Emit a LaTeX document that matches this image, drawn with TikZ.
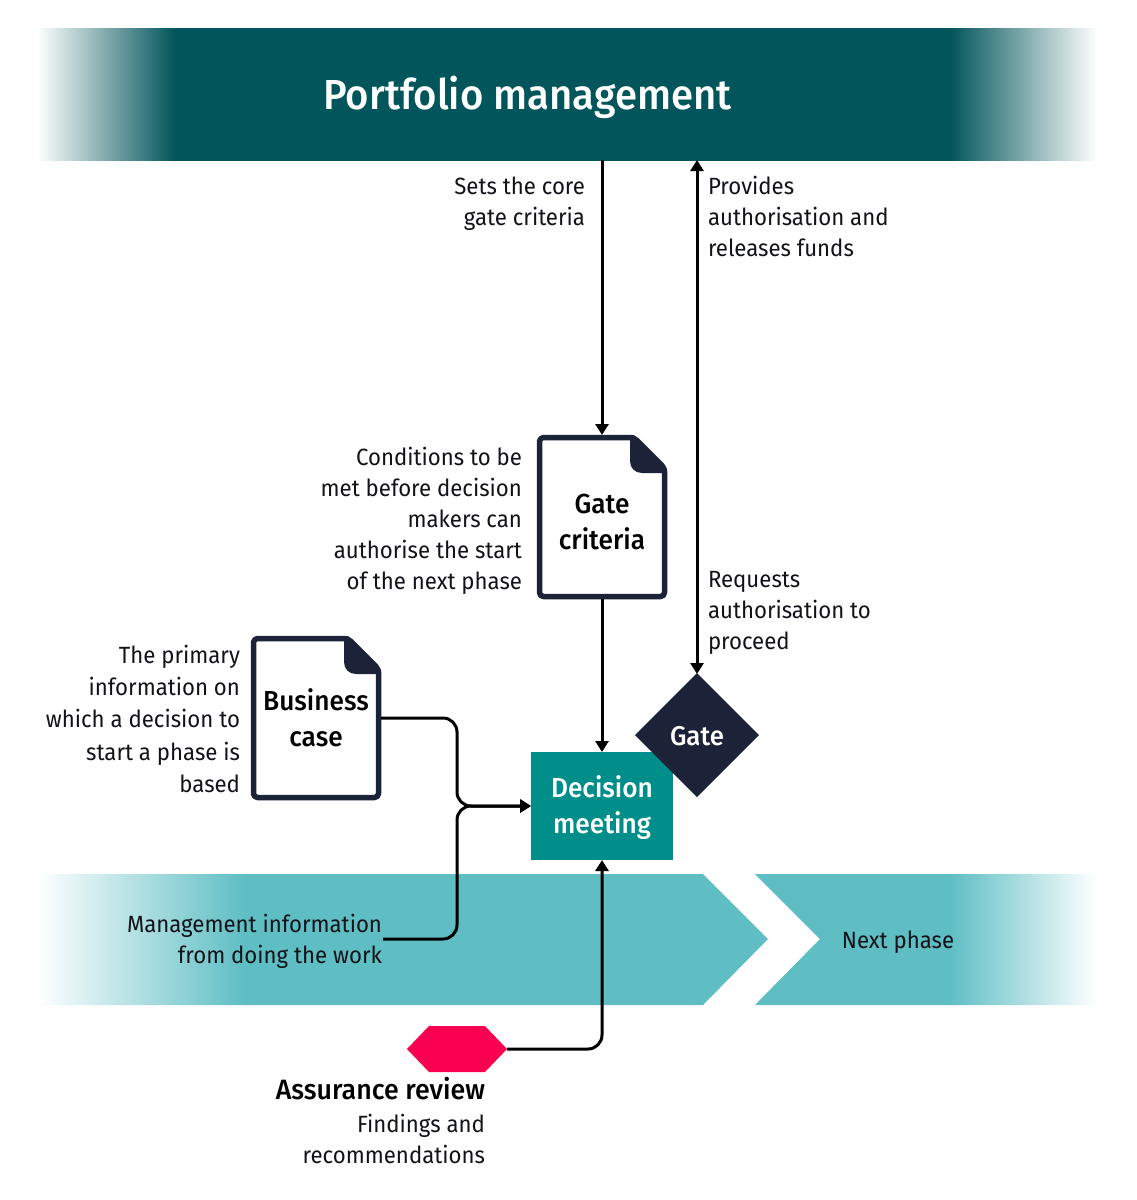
\documentclass[tikz,border=0pt]{standalone}
\usepackage{fontspec}
\setmainfont[FakeStretch=0.945]{Fira Sans}
\newfontfamily\medfont[FakeStretch=0.955]{Fira Sans Medium}
\usetikzlibrary{arrows.meta}
\definecolor{pdark}{HTML}{02555B}
\definecolor{band}{HTML}{5EBEC4}
\definecolor{deep}{HTML}{008E8B}
\definecolor{navy}{HTML}{1C2237}
\definecolor{hexred}{HTML}{F90050}
\definecolor{ink}{HTML}{111318}
\pgfdeclarehorizontalshading{barshade}{100bp}{color(0bp)=(white); color(25bp)=(white); color(31.51bp)=(pdark); color(68.07bp)=(pdark); color(75bp)=(white); color(100bp)=(white)}
\pgfdeclarehorizontalshading{bandleft}{100bp}{color(0bp)=(white); color(25bp)=(white); color(39.19bp)=(band); color(100bp)=(band)}
\pgfdeclarehorizontalshading{bandright}{100bp}{color(0bp)=(band); color(53.51bp)=(band); color(75bp)=(white); color(100bp)=(white)}
\tikzset{
  x=1pt,y=-1pt,
  lbl/.style={inner sep=0,outer sep=0,text=ink,font=\fontsize{23.5}{31}\selectfont},
  lblr/.style={lbl,align=right,anchor=north east},
  lbll/.style={lbl,align=left,anchor=north west},
  head/.style={inner sep=0,outer sep=0,align=center,font=\medfont\fontsize{27.5}{36}\selectfont},
  conn/.style={line width=3pt,draw=black,-{Triangle[length=11pt,width=13pt]},rounded corners=14pt},
  connb/.style={conn,{Triangle[length=11pt,width=13pt]}-{Triangle[length=11pt,width=13pt]}},
  docline/.style={draw=navy,line width=5.5pt,fill=white,line join=round,rounded corners=4pt},
}
\newcommand{\docshape}[2]{%
  \begin{scope}[shift={(#1,#2)}]
    \path[docline] (2.5,2.5) -- (97,2.5) -- (127.5,33) -- (127.5,161.5) -- (2.5,161.5) -- cycle;
    \fill[navy] (93,0) -- (97,0) -- (130,34) -- (130,38) -- (105,38) .. controls (98,38) and (93,33) .. (93,26) -- cycle;
  \end{scope}}
\begin{document}
\begin{tikzpicture}
\path[use as bounding box,fill=white] (0,0) rectangle (1137,1200);
% portfolio bar
\shade[shading=barshade,draw=none] (37,28) rectangle (1097,160);
\node[inner sep=0,outer sep=0,minimum width=1060pt,minimum height=132pt] (portfolio) at (567,94) {};
\node[inner sep=0,outer sep=0,text=white,font=\medfont\fontsize{42}{50}\selectfont] (ptitle) at (527.5,97.5) {Portfolio management};
% band
\begin{scope}
\clip (37,874) -- (703,874) -- (768,939) -- (703,1005) -- (37,1005) -- cycle;
\shade[shading=bandleft] (37,874) rectangle (770,1005);
\end{scope}
\begin{scope}
\clip (755,874) -- (1097,874) -- (1097,1005) -- (755,1005) -- (820,939) -- cycle;
\shade[shading=bandright] (755,874) rectangle (1097,1005);
\end{scope}
% documents
\docshape{537}{435}
\docshape{251}{636}
\node[inner sep=0,outer sep=0,minimum width=130pt,minimum height=164pt] (gatebox) at (602,517) {};
\node[inner sep=0,outer sep=0,minimum width=130pt,minimum height=165pt] (bizbox) at (316,718.5) {};
\node[head,text=black] (gatetext) at (602,521.5) {Gate\\criteria};
\node[head,text=black] (biztext) at (316,718) {Business\\case};
% decision and gate
\node[fill=deep,inner sep=0,outer sep=0,minimum width=142pt,minimum height=108pt] (decision) at (602,806) {};
\node[head,text=white] (dtext) at (602,808) {Decision\\meeting};
\path[fill=navy] (697,673) -- (759,735) -- (697,797) -- (635,735) -- cycle;
\node[inner sep=0,outer sep=0,minimum width=124pt,minimum height=124pt,text=white,font=\medfont\fontsize{27}{30}\selectfont] (gate) at (697,736) {Gate};
% hexagon
\path[fill=hexred] (407,1049) -- (429,1026) -- (485,1026) -- (507,1049) -- (485,1072) -- (429,1072) -- cycle;
\node[inner sep=0,outer sep=0,minimum width=100pt,minimum height=46pt] (hex) at (457,1049) {};
% labels
\node[lblr] (l1) at (585,177) {Sets the core\\gate criteria};
\node[lbll] (l2) at (708,176) {Provides\\authorisation and\\releases funds};
\node[lblr] (l3) at (522,447) {Conditions to be\\met before decision\\makers can\\authorise the start\\of the next phase};
\node[lbll] (l4) at (708,571) {Requests\\authorisation to\\proceed};
\node[lblr,font=\fontsize{23.5}{32.3}\selectfont] (l5) at (240,645) {The primary\\information on\\which a decision to\\start a phase is\\based};
\node[lblr] (l6) at (382,914) {Management information\\from doing the work};
\node[lbl,anchor=center] (l7) at (898,942) {Next phase};
\node[anchor=north east,inner sep=0,outer sep=0,text=black,font=\medfont\fontsize{28}{32}\selectfont] (l8) at (485,1077) {Assurance review};
\node[lblr] (l9) at (485,1114) {Findings and\\recommendations};
% connectors
\coordinate (trunk) at (457,806);
\coordinate (bizout) at (381,718);
\coordinate (mgmtout) at (383,939);
\draw[conn] (portfolio.south -| gatebox.north) -- (gatebox.north);
\draw[connb] (portfolio.south -| gate.north) -- (gate.north);
\draw[conn] (gatebox.south) -- (decision.north);
\draw[conn] (bizout) -| (trunk) -- (decision.west);
\draw[conn] (mgmtout) -| (trunk) -- (decision.west);
\draw[conn] (hex.east) -| (decision.south);
\end{tikzpicture}
\end{document}
